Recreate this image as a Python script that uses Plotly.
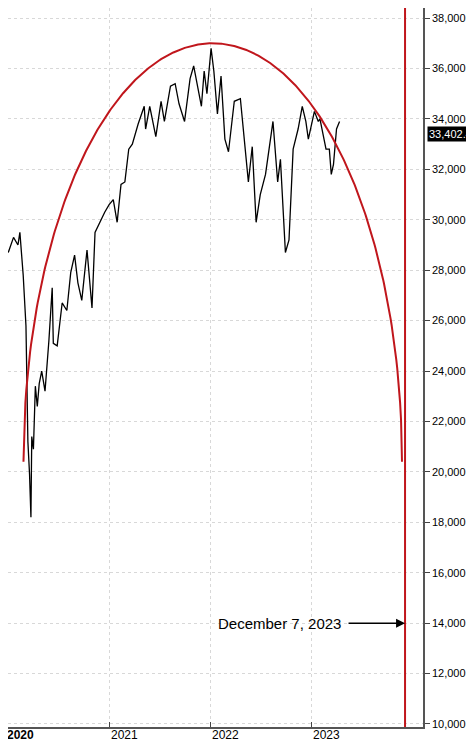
import plotly.graph_objects as go
import numpy as np
import pandas as pd

dates = ["2020-01-01","2020-01-20","2020-02-05","2020-02-12","2020-02-24","2020-03-05","2020-03-12","2020-03-18","2020-03-23",
"2020-03-26","2020-04-01","2020-04-08","2020-04-15","2020-04-22","2020-05-01","2020-05-13","2020-05-27","2020-06-08","2020-06-12",
"2020-06-26","2020-07-14","2020-07-31","2020-08-14","2020-08-28","2020-09-09","2020-09-23","2020-10-12","2020-10-30","2020-11-10",
"2020-11-27","2020-12-15","2020-12-31","2021-01-15","2021-01-29","2021-02-12","2021-02-26","2021-03-12","2021-03-25","2021-04-15",
"2021-05-07","2021-05-12","2021-05-27","2021-06-18","2021-07-07","2021-07-19","2021-08-10","2021-08-27","2021-09-10","2021-09-30",
"2021-10-20","2021-11-02","2021-11-30","2021-12-10","2021-12-20","2022-01-04","2022-01-14","2022-01-27","2022-02-09","2022-02-23",
"2022-03-08","2022-03-29","2022-04-20","2022-05-04","2022-05-19","2022-06-02","2022-06-16","2022-07-01","2022-07-20","2022-08-16",
"2022-09-02","2022-09-12","2022-09-30","2022-10-13","2022-10-28","2022-11-15","2022-11-30","2022-12-13","2022-12-22","2023-01-13",
"2023-01-27","2023-02-02","2023-02-24","2023-03-08","2023-03-15","2023-03-23","2023-04-03","2023-04-14"]
closes = [28700,29300,29000,29500,27800,25800,21200,19900,18200,
21400,20900,23400,22600,23500,24000,23200,25200,27300,25100,
25000,26700,26400,27900,28600,27500,26800,28800,26500,29500,
29900,30300,30600,30800,29900,31400,31500,32800,33000,33800,
34500,33600,34500,33300,34700,33900,35300,35400,34600,33900,
35600,36100,34500,35900,35000,36800,35900,34200,35700,33200,
32700,34700,34800,33100,31500,32900,29900,31000,31800,33900,
31500,32400,28700,29200,32800,33600,34500,33900,33200,34300,
33900,34000,32800,32800,31800,32200,33600,33900]

# reference arc (half ellipse) parameters
arc_center = "2022-01-10"; arc_half_days = 685; arc_base = 20400; arc_height = 16600
vline_date = "2023-12-07"
last_label = "33,402.4"; last_value = 33402.4

c = pd.Timestamp(arc_center)
t = np.linspace(-1, 1, 400)
arc_x = [c + pd.Timedelta(days=float(v*arc_half_days)) for v in t]
arc_y = arc_base + arc_height*np.sqrt(1 - t**2)

font = "Liberation Sans, Arial"
fig = go.Figure()
fig.add_trace(go.Scatter(x=dates, y=closes, mode="lines", line=dict(color="black", width=1.3), hoverinfo="skip"))
fig.add_trace(go.Scatter(x=arc_x, y=arc_y, mode="lines", line=dict(color="#c0161c", width=2), hoverinfo="skip"))
fig.add_shape(type="line", x0=vline_date, x1=vline_date, y0=0, y1=1, yref="paper", line=dict(color="#c0161c", width=2))

fig.add_annotation(x=vline_date, y=14000, ax=-58, ay=0, xref="x", yref="y",
                   showarrow=True, arrowhead=2, arrowsize=1.2, arrowwidth=1.5, arrowcolor="black", text="")
fig.add_annotation(x=vline_date, y=14000, xref="x", yref="y", text="December 7, 2023", xshift=-62,
                   showarrow=False, xanchor="right", font=dict(family=font, size=15, color="black"))
fig.add_annotation(x=1, xref="paper", y=last_value, yref="y", text=last_label, showarrow=False, xanchor="left",
                   xshift=4, bgcolor="black", font=dict(family=font, size=11, color="white"), borderpad=1)

for yr in ["2020", "2021", "2022", "2023"]:
    fig.add_annotation(x=yr + "-01-01", y=0, yref="paper", yanchor="top", xanchor="left", showarrow=False,
                       text=("<b>%s</b>" % yr) if yr == "2020" else yr, xshift=-3 if yr == "2020" else 0, yshift=1,
                       font=dict(family=font, size=12, color="black"))

fig.update_layout(width=474, height=741, margin=dict(l=0, r=59, t=0, b=22), showlegend=False,
                  plot_bgcolor="white", paper_bgcolor="white")
fig.update_xaxes(range=["2019-12-31", "2024-02-10"], tickvals=["2021-01-01", "2022-01-01", "2023-01-01"],
                 showticklabels=False, ticks="inside", ticklen=5, tickcolor="#444", automargin=False,
                 showgrid=True, gridcolor="#d8d8d8", griddash="dot", showline=True, linecolor="#555", linewidth=1.5)
fig.update_yaxes(side="right", range=[9880, 38400], tickvals=list(range(10000, 38001, 2000)), tickformat=",",
                 ticks="outside", ticklen=5, tickcolor="#444", showgrid=True, gridcolor="#d8d8d8", griddash="dot",
                 showline=True, linecolor="#555", linewidth=1.5, zeroline=False, automargin=False,
                 tickfont=dict(family=font, size=11, color="black"))
fig.write_html("out.html")
